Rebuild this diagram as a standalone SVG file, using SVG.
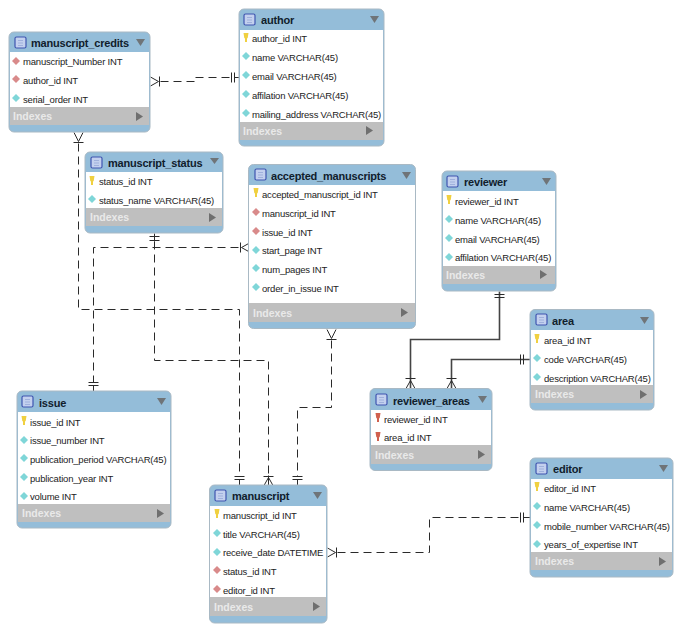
<svg xmlns="http://www.w3.org/2000/svg" width="680" height="630" viewBox="0 0 680 630">
<style>
text{font-family:"Liberation Sans",Arial,sans-serif}
.t{fill:#94bdd9;stroke:#a9b9c4;stroke-width:1}
.b{fill:#fff}
.g{fill:#bfbfbf}
.h{font-size:11px;font-weight:700;fill:#10202c;letter-spacing:-.2px}
.r{font-size:9.5px;fill:#222;letter-spacing:-.2px}
.i{font-size:10.5px;font-weight:700;fill:#e9e9e9}
.a{fill:#6f6f6f}
.d{fill:#6f7478}
.c{fill:none;stroke:#2a2a2a;stroke-width:1}
.dash{stroke-dasharray:8 5}
.s{stroke-width:1.6;stroke:#444}
</style>
<defs>
<g id="ti"><rect x="0" y="0" width="11" height="11" rx="1.5" fill="#c3d0ee" stroke="#3f55b0" stroke-width="1.2"/><path d="M3 3.500H8M3 6H8M3 8.500H8" stroke="#9fb0dc" stroke-width="1"/></g>
<path id="k" d="M-2.500 -5h5l-.8 5 -.7 .5v3.500h-2v-3.500l-.7 -.5z" fill="#f0d040"/>
<path id="f" d="M-2.500 -5h5l-.8 5 -.7 .5v3.500h-2v-3.500l-.7 -.5z" fill="#d0604e"/>
<path id="p" d="M0 -4L4 0L0 4L-4 0z" fill="#d98a8a"/>
<path id="q" d="M0 -4L4 0L0 4L-4 0z" fill="#7fd6d8"/>
</defs>

<g id="connectors" transform="translate(.5 .5)">
<path class="c dash" d="M160 81H195V77H231"/><path class="c" d="M150 76.500L158 81L150 85.500M159 76V86M231 72V82M234 72V82M234 77H239"/>
<path class="c dash" d="M78 143V309H239V476"/><path class="c" d="M73.500 132L78 141L82.500 132M73 142H83M234 476H244M234 479H244M239 479V485"/>
<path class="c dash" d="M238 247H93V382"/><path class="c" d="M249 242.500L241 247L249 251.500M240 242V252M88 382H98M88 385H98M93 385V391"/>
<path class="c dash" d="M154 241V360H268V476"/><path class="c" d="M149 236H159M149 240H159M154 233V241M263.500 485L268 477L272.500 485M263 476H273M268 475V485"/>
<path class="c dash" d="M331 340V407H297V476"/><path class="c" d="M326.500 329L331 338L335.500 329M326 339H336M292 476H302M292 479H302M297 479V485"/>
<path class="c s" d="M499 291V339H410V388M530 359H451V388"/><path class="c" d="M494 294H504M494 297H504M405.500 388L410 380L414.500 388M405 378H415M446.500 388L451 380L455.500 388M446 378H456M520 354V364M523 354V364"/>
<path class="c dash" d="M337 552H429V517H520"/><path class="c" d="M327 547.500L335 552L327 556.500M336 547V557M520 512V522M523 512V522M523 517H530"/>
</g>

<g id="manuscript_credits"><rect class="t" x="9" y="32" width="141" height="100" rx="5"/><rect class="b" x="10" y="52" width="139" height="55"/><rect class="g" x="10" y="107" width="139" height="18"/><use href="#ti" x="15" y="37"/><text class="h" x="31" y="47">manuscript_credits</text><path class="d" d="M136 39H145L140.500 46z"/><use href="#p" x="16" y="61"/><text class="r" x="23" y="65">manuscript_Number INT</text><use href="#p" x="16" y="79"/><text class="r" x="23" y="84">author_id INT</text><use href="#q" x="16" y="98"/><text class="r" x="23" y="103">serial_order INT</text><text class="i" x="13" y="120">Indexes</text><path class="a" d="M136 112L143 116.500L136 121z"/></g>

<g id="author"><rect class="t" x="239" y="9" width="145" height="137" rx="5"/><rect class="b" x="240" y="30" width="143" height="92"/><rect class="g" x="240" y="122" width="143" height="18"/><use href="#ti" x="244" y="14"/><text class="h" x="261" y="24">author</text><path class="d" d="M370 16H379L374.500 23z"/><use href="#k" x="246" y="38"/><text class="r" x="252" y="42">author_id INT</text><use href="#q" x="246" y="56"/><text class="r" x="252" y="61">name VARCHAR(45)</text><use href="#q" x="246" y="75"/><text class="r" x="252" y="80">email VARCHAR(45)</text><use href="#q" x="246" y="94"/><text class="r" x="252" y="99">affilation VARCHAR(45)</text><use href="#q" x="246" y="113"/><text class="r" x="252" y="118">mailing_address VARCHAR(45)</text><text class="i" x="243" y="135">Indexes</text><path class="a" d="M366 126L373 130.500L366 135z"/></g>

<g id="manuscript_status"><rect class="t" x="85" y="152" width="138" height="81" rx="5"/><rect class="b" x="86" y="172" width="136" height="36"/><rect class="g" x="86" y="208" width="136" height="18"/><use href="#ti" x="91" y="157"/><text class="h" x="108" y="167">manuscript_status</text><path class="d" d="M210 158H219L214.500 164z"/><use href="#k" x="92" y="181"/><text class="r" x="99" y="185">status_id INT</text><use href="#q" x="92" y="199"/><text class="r" x="99" y="204">status_name VARCHAR(45)</text><text class="i" x="90" y="221">Indexes</text><path class="a" d="M209 213L216 217.500L209 222z"/></g>

<g id="accepted_manuscripts"><rect class="t" x="248.500" y="164.500" width="167" height="164" rx="5"/><rect class="b" x="249" y="185" width="166" height="118"/><rect class="g" x="249" y="303" width="166" height="19"/><use href="#ti" x="255" y="169"/><text class="h" x="271" y="180">accepted_manuscripts</text><path class="d" d="M402 172H411L406.500 179z"/><use href="#k" x="256" y="193"/><text class="r" x="262" y="198">accepted_manuscript_id INT</text><use href="#p" x="256" y="212"/><text class="r" x="262" y="217">manuscript_id INT</text><use href="#p" x="256" y="231"/><text class="r" x="262" y="236">issue_id INT</text><use href="#q" x="256" y="250"/><text class="r" x="262" y="254">start_page INT</text><use href="#q" x="256" y="268"/><text class="r" x="262" y="273">num_pages INT</text><use href="#q" x="256" y="287"/><text class="r" x="262" y="292">order_in_issue INT</text><text class="i" x="253" y="317">Indexes</text><path class="a" d="M401 308L408 312.500L401 317z"/></g>

<g id="reviewer"><rect class="t" x="442" y="171" width="114" height="120" rx="5"/><rect class="b" x="443" y="191" width="112" height="75"/><rect class="g" x="443" y="266" width="112" height="18"/><use href="#ti" x="447" y="176"/><text class="h" x="464" y="186">reviewer</text><path class="d" d="M542 178H551L546.500 185z"/><use href="#k" x="449" y="200"/><text class="r" x="455" y="205">reviewer_id INT</text><use href="#q" x="449" y="219"/><text class="r" x="455" y="224">name VARCHAR(45)</text><use href="#q" x="449" y="238"/><text class="r" x="455" y="243">email VARCHAR(45)</text><use href="#q" x="449" y="257"/><text class="r" x="455" y="261">affilation VARCHAR(45)</text><text class="i" x="446" y="279">Indexes</text><path class="a" d="M540 270L547 274.500L540 279z"/></g>

<g id="area"><rect class="t" x="530" y="309.500" width="124" height="100.500" rx="5"/><rect class="b" x="531" y="330" width="122" height="55"/><rect class="g" x="531" y="385" width="122" height="18"/><use href="#ti" x="536" y="314"/><text class="h" x="552" y="325">area</text><path class="d" d="M640 317H649L644.500 324z"/><use href="#k" x="537" y="339"/><text class="r" x="544" y="344">area_id INT</text><use href="#q" x="537" y="358"/><text class="r" x="544" y="363">code VARCHAR(45)</text><use href="#q" x="537" y="377"/><text class="r" x="544" y="382">description VARCHAR(45)</text><text class="i" x="535" y="398">Indexes</text><path class="a" d="M640 390L647 394.500L640 399z"/></g>

<g id="reviewer_areas"><rect class="t" x="370" y="388.500" width="122" height="82" rx="5"/><rect class="b" x="371" y="410" width="120" height="35"/><rect class="g" x="371" y="445" width="120" height="19"/><use href="#ti" x="376" y="394"/><text class="h" x="393" y="405">reviewer_areas</text><path class="d" d="M478 396H487L482.500 403z"/><use href="#f" x="378" y="418"/><text class="r" x="384" y="423">reviewer_id INT</text><use href="#f" x="378" y="437"/><text class="r" x="384" y="441">area_id INT</text><text class="i" x="375" y="459">Indexes</text><path class="a" d="M478 450L485 454.500L478 459z"/></g>

<g id="issue"><rect class="t" x="17" y="391" width="154" height="137" rx="5"/><rect class="b" x="18" y="412" width="152" height="92"/><rect class="g" x="18" y="504" width="152" height="18"/><use href="#ti" x="22" y="396"/><text class="h" x="39" y="407">issue</text><path class="d" d="M157 398H166L161.500 405z"/><use href="#k" x="24" y="421"/><text class="r" x="30" y="426">issue_id INT</text><use href="#q" x="24" y="440"/><text class="r" x="30" y="444">issue_number INT</text><use href="#q" x="24" y="458"/><text class="r" x="30" y="463">publication_period VARCHAR(45)</text><use href="#q" x="24" y="477"/><text class="r" x="30" y="482">publication_year INT</text><use href="#q" x="24" y="496"/><text class="r" x="30" y="500">volume INT</text><text class="i" x="22" y="517">Indexes</text><path class="a" d="M157 509L164 513.500L157 518z"/></g>

<g id="manuscript"><rect class="t" x="209.500" y="485" width="117.500" height="138" rx="5"/><rect class="b" x="210" y="506" width="116" height="91"/><rect class="g" x="210" y="597" width="116" height="19"/><use href="#ti" x="215" y="490"/><text class="h" x="232" y="500">manuscript</text><path class="d" d="M313 492H322L317.500 499z"/><use href="#k" x="217" y="514"/><text class="r" x="223" y="519">manuscript_id INT</text><use href="#q" x="217" y="533"/><text class="r" x="223" y="538">title VARCHAR(45)</text><use href="#q" x="217" y="552"/><text class="r" x="223" y="556">receive_date DATETIME</text><use href="#p" x="217" y="570"/><text class="r" x="223" y="575">status_id INT</text><use href="#p" x="217" y="589"/><text class="r" x="223" y="594">editor_id INT</text><text class="i" x="214" y="611">Indexes</text><path class="a" d="M313 602L320 606.500L313 611z"/></g>

<g id="editor"><rect class="t" x="530" y="458" width="143" height="119" rx="5"/><rect class="b" x="531" y="479" width="141" height="73"/><rect class="g" x="531" y="552" width="141" height="18"/><use href="#ti" x="536" y="463"/><text class="h" x="553" y="473">editor</text><path class="d" d="M659 465H668L663.500 472z"/><use href="#k" x="537" y="487"/><text class="r" x="544" y="492">editor_id INT</text><use href="#q" x="537" y="506"/><text class="r" x="544" y="511">name VARCHAR(45)</text><use href="#q" x="537" y="525"/><text class="r" x="544" y="530">mobile_number VARCHAR(45)</text><use href="#q" x="537" y="544"/><text class="r" x="544" y="548">years_of_expertise INT</text><text class="i" x="535" y="565">Indexes</text><path class="a" d="M659 557L666 561.500L659 566z"/></g>
</svg>
